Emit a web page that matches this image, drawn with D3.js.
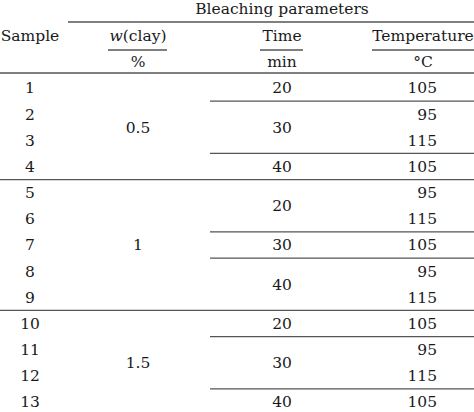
<!DOCTYPE html>
<html><head><meta charset="utf-8">
<script src="https://cdn.jsdelivr.net/npm/d3@7"></script>
<style>body{margin:0;background:#fff}text{font-family:"DejaVu Serif","Liberation Serif",serif;font-size:15.5px;fill:#1a1a1a}</style>
</head><body><svg id="t" width="474" height="412"></svg>
<script>
var samples=["1","2","3","4","5","6","7","8","9","10","11","12","13"];
var clay=[{v:"0.5",from:0,to:3},{v:"1",from:4,to:8},{v:"1.5",from:9,to:12}];
var times=[{v:"20",from:0,to:0},{v:"30",from:1,to:2},{v:"40",from:3,to:3},
           {v:"20",from:4,to:5},{v:"30",from:6,to:6},{v:"40",from:7,to:8},
           {v:"20",from:9,to:9},{v:"30",from:10,to:11},{v:"40",from:12,to:12}];
var temps=["105","95","115","105","95","115","105","95","115","105","95","115","105"];

var svg=d3.select('#t');
var y=d3.scaleLinear().domain([0,12]).range([88,402]);
var col={sample:30,clay:138,time:282,temp:437};
var lineColor="#555";

function hline(x1,x2,yy){
  svg.append('line').attr('x1',x1).attr('x2',x2).attr('y1',yy).attr('y2',yy)
     .attr('stroke',lineColor).attr('stroke-width',1.4);
}
function txt(x,yy,s,anchor){
  return svg.append('text').attr('x',x).attr('y',yy).attr('dy','0.35em')
     .attr('text-anchor',anchor||'middle').text(s);
}

// header
txt(282,9,"Bleaching parameters");
hline(68,474,22);
txt(col.sample,36,"Sample");
var w=txt(col.clay,36,"");
w.append('tspan').attr('font-style','italic').text('w');
w.append('tspan').text('(clay)');
txt(col.time,36,"Time");
txt(423,36,"Temperature");
hline(108,167,50);hline(260,303,50);hline(372,474,50);
txt(col.clay,62,"%");txt(col.time,62,"min");txt(423,62,"°C");
hline(0,474,73);

// body
samples.forEach(function(s,i){txt(col.sample,y(i),s);});
temps.forEach(function(s,i){txt(col.temp,y(i),s,'end');});
clay.forEach(function(c,k){
  txt(col.clay,(y(c.from)+y(c.to))/2,c.v);
  if(k<clay.length-1) hline(0,474,(y(c.to)+y(c.to+1))/2);
});
times.forEach(function(t,k){
  txt(col.time,(y(t.from)+y(t.to))/2,t.v);
  var isGroupEnd=clay.some(function(c){return c.to===t.to;});
  if(!isGroupEnd) hline(210,474,(y(t.to)+y(t.to+1))/2);
});
</script></body></html>
